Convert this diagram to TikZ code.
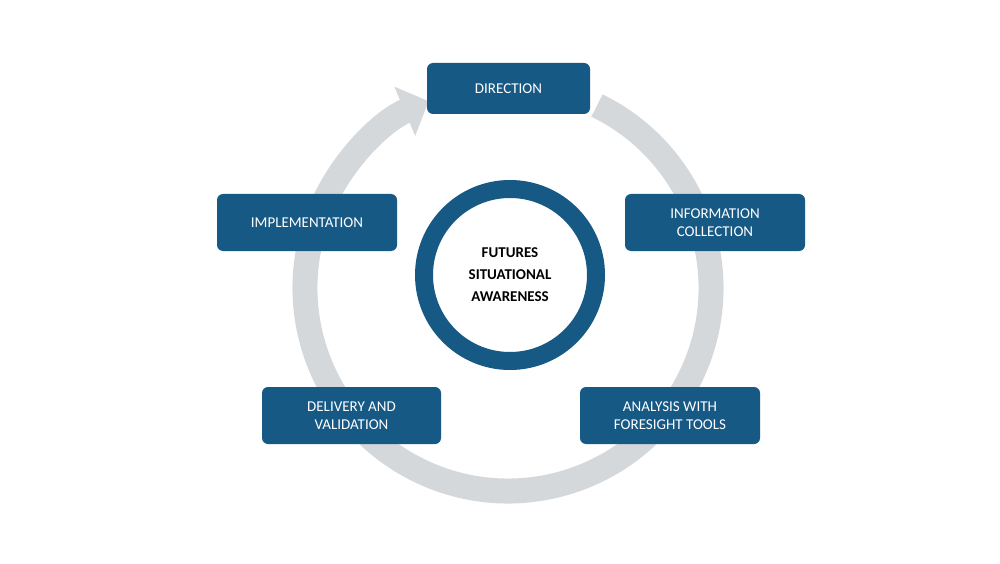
\documentclass[tikz,border=0pt]{standalone}
\usepackage{fontspec}
\setmainfont{Carlito}
\usetikzlibrary{arrows.meta,calc}
\definecolor{boxblue}{HTML}{175985}
\definecolor{ringgray}{HTML}{D5D8DB}
\begin{document}
\begin{tikzpicture}[x=1pt,y=1pt,
  stagebox/.style={fill=boxblue,rounded corners=6pt,text=white,font=\fontsize{15}{18}\selectfont,align=center,inner sep=0pt}]
\useasboundingbox (0,0) rectangle (1000,563);
\coordinate (c) at (508,275);
\draw[ringgray,line width=25pt,-{Triangle[length=26pt,width=52pt]}] ($(c)+(64:203)$) arc[start angle=64,end angle=-247,radius=203];
\node[stagebox,minimum width=163pt,minimum height=51pt] (dir) at (508.5,474.5) {DIRECTION};
\node[stagebox,minimum width=180pt,minimum height=57pt] (info) at (715,340.5) {INFORMATION\\COLLECTION};
\node[stagebox,minimum width=180pt,minimum height=57pt] (impl) at (307,340.5) {IMPLEMENTATION};
\node[stagebox,minimum width=179pt,minimum height=57pt] (deli) at (351.5,147.5) {DELIVERY AND\\VALIDATION};
\node[stagebox,minimum width=180pt,minimum height=57pt] (anal) at (670,147.5) {ANALYSIS WITH\\FORESIGHT TOOLS};
\node[circle,draw=boxblue,line width=18pt,minimum size=172pt,fill=white,align=center,font=\bfseries\fontsize{15}{22}\selectfont] (fsa) at (510,288) {FUTURES\\SITUATIONAL\\AWARENESS};
\end{tikzpicture}
\end{document}
